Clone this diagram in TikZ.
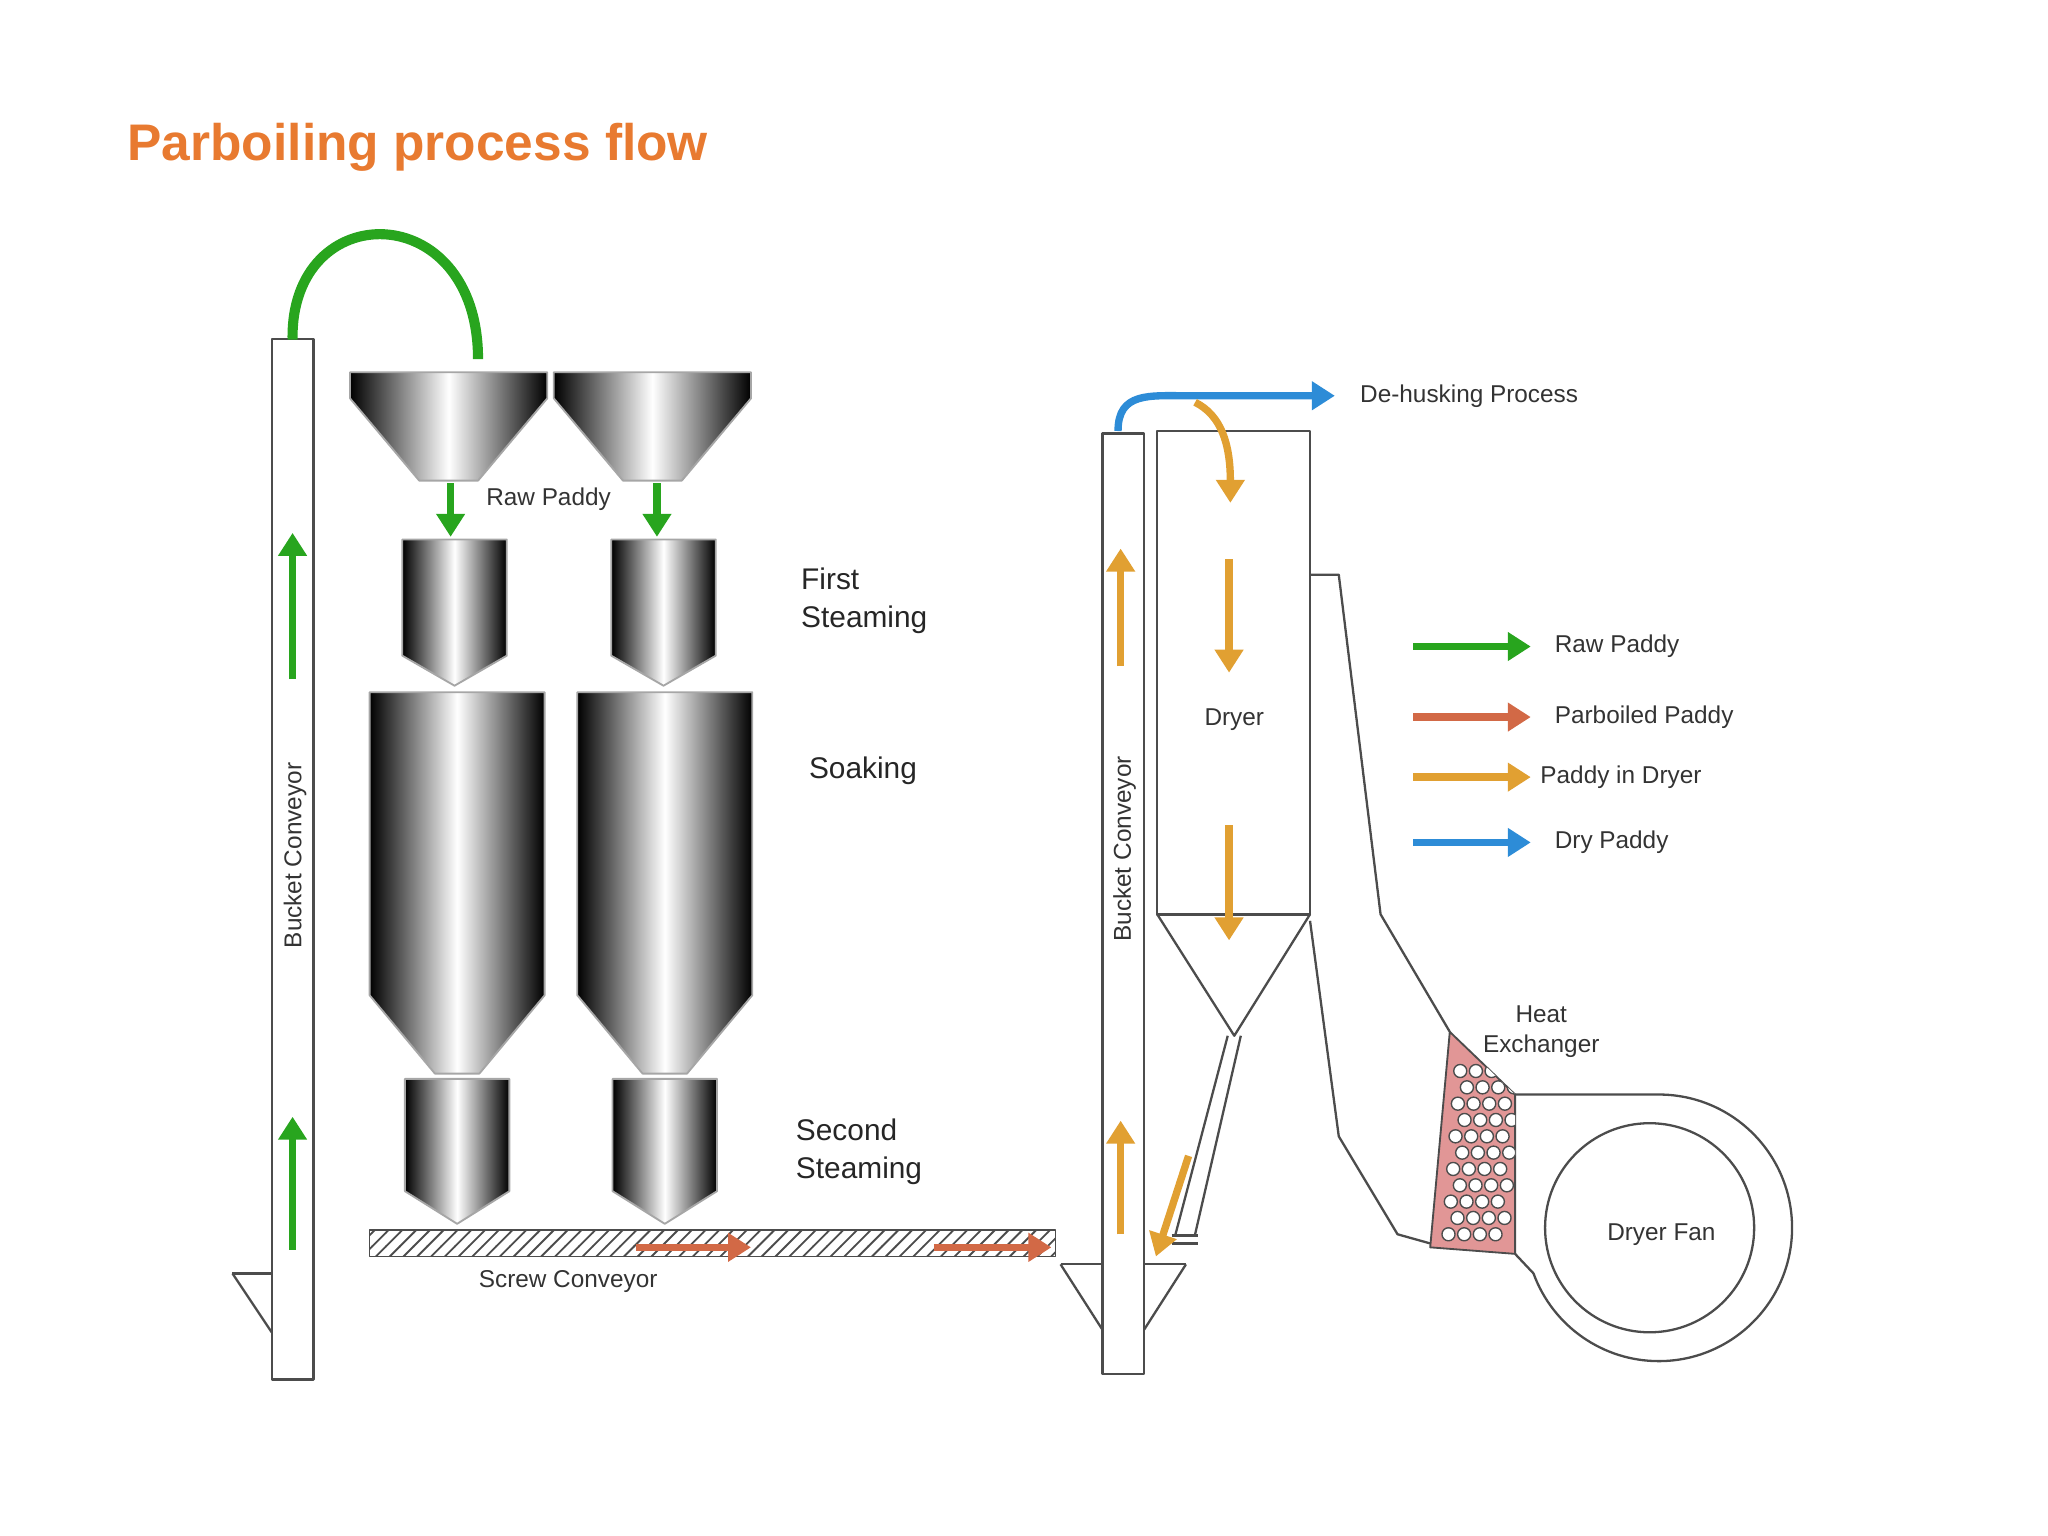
\documentclass[tikz,border=0pt]{standalone}
\usepackage{fontspec}
\setmainfont{Liberation Sans}
\usetikzlibrary{arrows.meta,patterns}
\definecolor{ttl}{RGB}{232,122,48}
\definecolor{gr}{RGB}{40,165,30}
\definecolor{rd}{RGB}{210,105,70}
\definecolor{og}{RGB}{225,160,50}
\definecolor{bl}{RGB}{45,140,215}
\definecolor{pk}{RGB}{225,150,150}
\begin{document}
\begin{tikzpicture}[x={(0.01cm,0)},y={(0,-0.01cm)},
 line join=round,
 metal/.style={draw=gray!70,left color=black,right color=black,middle color=white},
 flow/.style={line width=1.6pt,-{Triangle[length=5pt,width=6pt]}},
 sm/.style={font=\fontsize{5.3}{6.6}\selectfont,text=black!80},
 big/.style={font=\fontsize{6.5}{8.2}\selectfont,align=left,anchor=west,text=black!85},
 box/.style={draw=black!70,fill=white,line width=0.5pt},
 ln/.style={draw=black!70,line width=0.5pt}]
\useasboundingbox (0,0) rectangle (1568,1176);
\node[anchor=west,text=ttl,font=\fontsize{11.2}{13}\selectfont\bfseries,inner sep=0] (title) at (97,113) {Parboiling process flow};
% left bucket conveyor
\draw[ln] (178,975) -- (208,1020);
\draw[ln] (178,975) -- (208,975);
\node[box,minimum width=0.32cm,minimum height=7.96cm,inner sep=0] (bc1) at (224,658) {};
\node[sm,rotate=90] (bc1l) at (226,655) {Bucket Conveyor};
\draw[gr,line width=2.2pt] (224,260) .. controls (222,150) and (366,150) .. (366,275);
\draw[flow,gr] (224,520) -- (224,408);
\draw[flow,gr] (224,957) -- (224,855);
% hoppers
\foreach \a in {268,424}{
 \path[metal] (\a,285) -- (\a+151,285) -- (\a+151,305) -- (\a+98,368) -- (\a+53,368) -- (\a,305) -- cycle;}
\coordinate (h1) at (345,370); \coordinate (f1) at (345,411);
\coordinate (h2) at (503,370); \coordinate (f2) at (503,411);
\draw[flow,gr] (h1) -- (f1);
\draw[flow,gr] (h2) -- (f2);
\node[sm] (rp) at (420,382) {Raw Paddy};
% first steaming
\foreach \a in {308,468}{
 \path[metal] (\a,413) -- (\a+80,413) -- (\a+80,502) -- (\a+40,525) -- (\a,502) -- cycle;}
% soaking
\foreach \a in {283,442}{
 \path[metal] (\a,530) -- (\a+134,530) -- (\a+134,762) -- (\a+84,822) -- (\a+50,822) -- (\a,762) -- cycle;}
% second steaming
\foreach \a in {310,469}{
 \path[metal] (\a,826) -- (\a+80,826) -- (\a+80,912) -- (\a+40,937) -- (\a,912) -- cycle;}
\node[big] (fs) at (601,460) {First\\Steaming};
\node[big] (so) at (607,590) {Soaking};
\node[big] (ss) at (597,882) {Second\\Steaming};
% screw conveyor
\node[draw=black!70,pattern=north east lines,pattern color=black!70,minimum width=5.25cm,minimum height=0.2cm,inner sep=0] (sc) at (545.5,952) {};
\draw[flow,rd] (487,955) -- (575,955);
\draw[flow,rd] (715,955) -- (805,955);
\node[sm] (scl) at (435,981) {Screw Conveyor};
% right bucket conveyor
\draw[ln] (812,968) -- (844,1018);
\draw[ln] (812,968) -- (844,968);
\draw[ln] (908,968) -- (876,1018);
\draw[ln] (908,968) -- (876,968);
\node[box,minimum width=0.32cm,minimum height=7.2cm,inner sep=0] (bc2) at (860,692) {};
\node[sm,rotate=90] (bc2l) at (861,650) {Bucket Conveyor};
\draw[flow,og] (858,510) -- (858,420);
\draw[flow,og] (858,945) -- (858,858);
% dryer
\node[box,minimum width=1.17cm,minimum height=3.7cm,inner sep=0] (dr) at (944.5,515) {};
\draw[ln] (886,700) -- (945,793) -- (1003,700);
\draw[ln] (940,793) -- (900,945);
\draw[ln] (950,793) -- (915,945);
\draw[ln] (897,946) -- (917,946);
\draw[ln] (897,952) -- (917,952);
\node[sm] (drl) at (945,551) {Dryer};
\coordinate (bs) at (856,330); \coordinate (bd) at (1022,303);
\draw[flow,bl] (bs) .. controls (856,300) and (880,303) .. (910,303) -- (bd);
\node[sm,anchor=west] (dh) at (1029,303) {De-husking Process};
\draw[flow,og] (915,308) .. controls (935,318) and (942,340) .. (942,385);
\draw[flow,og] (941,428) -- (941,515);
\draw[flow,og] (941,632) -- (941,720);
\draw[flow,og] (910,885) -- (885,962);
% duct
\draw[ln] (1003,440) -- (1025,440) -- (1057,700) -- (1110,790);
\draw[ln] (1003,705) -- (1025,870) -- (1070,945) -- (1095,952);
% heat exchanger
\path[draw=black!70,fill=pk] (1110,790) -- (1160,838) -- (1160,960) -- (1095,955) -- cycle;
\begin{scope}
\clip (1110,790) -- (1160,838) -- (1160,960) -- (1095,955) -- cycle;
\foreach \r in {0,...,10}{\foreach \c in {0,...,3}{
 \pgfmathsetmacro{\xx}{1118+\c*12+mod(\r,2)*6-\r*0.9}
 \pgfmathsetmacro{\yy}{820+\r*12.5}
 \fill[white,draw=black!70,line width=0.3pt] (\xx,\yy) circle[radius=0.05cm];}}
\end{scope}
\node[sm,align=center] (he) at (1180,790) {Heat\\Exchanger};
% fan
\draw[ln] (1160,838) -- (1270,838) arc[start angle=90,end angle=-160,radius=1.02cm] -- (1160,960);
\draw[ln] (1263,940) circle[radius=0.8cm];
\node[sm] (fan) at (1272,945) {Dryer Fan};
% legend
\foreach \y/\c/\t in {495/gr/Raw Paddy,549/rd/Parboiled Paddy,645/bl/Dry Paddy}{
 \draw[flow,\c] (1082,\y) -- (1172,\y);
 \node[sm,anchor=west] at (1178,\y) {\t};}
\draw[flow,og] (1082,595) -- (1172,595);
\node[sm,anchor=west] (lg3) at (1167,595) {Paddy in Dryer};
\end{tikzpicture}
\end{document}
